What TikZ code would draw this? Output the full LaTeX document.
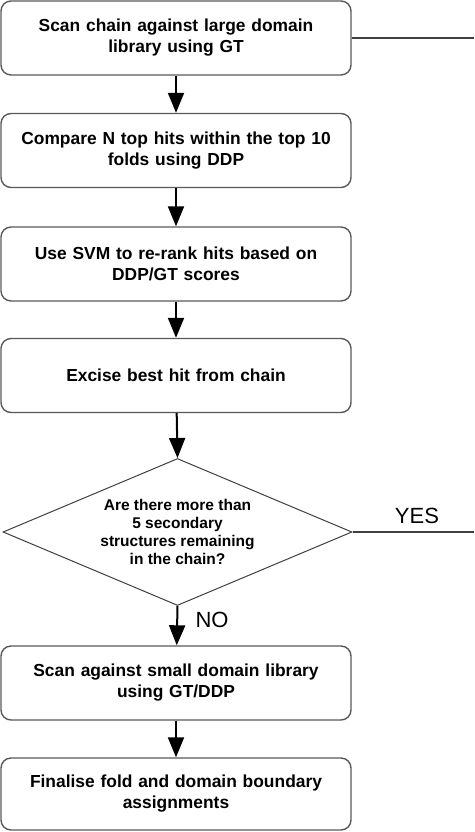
\documentclass[tikz,border=0pt]{standalone}
\usepackage{fontspec}
\setmainfont{Liberation Sans}
\usetikzlibrary{shapes.geometric,arrows.meta}
\begin{document}
\begin{tikzpicture}[x=1pt,y=-1pt,
  stepbox/.style={draw=black!65, line width=1.4pt, rounded corners=10pt,
    minimum width=350pt, minimum height=74pt, text width=340pt, align=center,
    inner sep=0pt, font=\bfseries\fontsize{17.4}{21}\selectfont},
  decision/.style={draw=black!75, line width=1pt, diamond, aspect=2.374, inner sep=0pt,
    minimum width=349pt, minimum height=147pt, align=center,
    font=\bfseries\fontsize{15.5}{18}\selectfont},
  flow/.style={-{Triangle[length=20pt,width=16pt]}, line width=2pt, black},
  side/.style={draw=black!75, line width=1.3pt},
  lbl/.style={font=\fontsize{22}{26}\selectfont, inner sep=0pt}]
\useasboundingbox (0,0) rectangle (474,832);
\node[stepbox] (b1) at (176,38) {Scan chain against large domain\\library using GT};
\node[stepbox] (b2) at (176,150.5) {Compare N top hits within the top 10\\folds using DDP};
\node[stepbox] (b3) at (176,264) {Use SVM to re-rank hits based on\\DDP/GT scores};
\node[stepbox] (b4) at (176,375.5) {Excise best hit from chain};
\node[decision] (d) at (177.5,532) {Are there more than\\5 secondary\\structures remaining\\in the chain?};
\node[stepbox] (b6) at (176,683) {Scan against small domain library\\using GT/DDP};
\node[stepbox, minimum height=72pt] (b7) at (176,794) {Finalise fold and domain boundary\\assignments};
\coordinate (e1) at (474,38);
\coordinate (e2) at (474,532);
\draw[flow] (b1) -- (b2);
\draw[flow] (b2) -- (b3);
\draw[flow] (b3) -- (b4);
\draw[flow] (b4) -- (d.north);
\draw[flow] (d.south) -- (b6);
\draw[flow] (b6) -- (b7);
\draw[side] (b1.east) -- (e1);
\draw[side] (d.east) -- (e2);
\node[lbl, anchor=base] (yes) at (417,523) {YES};
\node[lbl, anchor=base] (no) at (212,627) {NO};
\end{tikzpicture}
\end{document}
